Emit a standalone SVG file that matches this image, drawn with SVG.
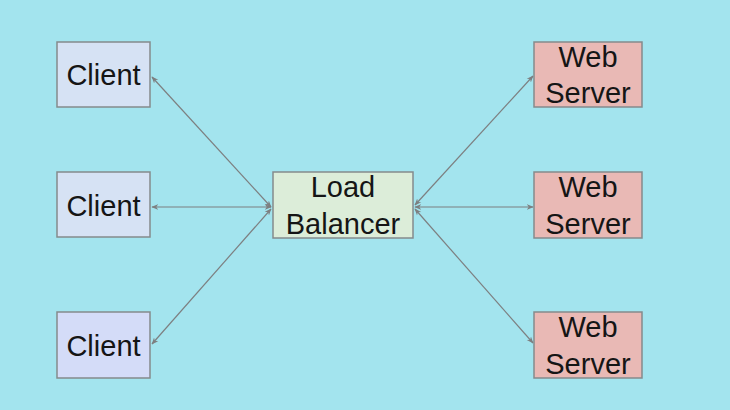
<svg xmlns="http://www.w3.org/2000/svg" width="730" height="410" viewBox="0 0 730 410">
<style>
.box{stroke:#858a8c;stroke-width:1.5}
.client{fill:#d6e2f4}
.lb{fill:#dcedd9}
.web{fill:#e9b9b5}
text{font-family:"Liberation Sans",Arial,sans-serif;font-size:29px;fill:#151515;text-anchor:middle}
.conn line{stroke:#7d7f80;stroke-width:1.2;marker-start:url(#ah);marker-end:url(#ah)}
</style>
<defs>
<marker id="ah" viewBox="0 0 10 10" refX="9" refY="5" markerWidth="7" markerHeight="7" orient="auto-start-reverse" markerUnits="userSpaceOnUse">
<path d="M0,1 L10,5 L0,9 L3,5 z" fill="#7d7f80"/>
</marker>
</defs>
<rect width="730" height="410" fill="#a3e4ee"/>
<g class="conn">
<line x1="152" y1="77" x2="271" y2="207"/>
<line x1="152" y1="207" x2="271" y2="207"/>
<line x1="152" y1="344" x2="271" y2="209"/>
<line x1="415" y1="205" x2="533" y2="76"/>
<line x1="415" y1="207" x2="533" y2="207"/>
<line x1="415" y1="209" x2="533" y2="343"/>
</g>
<g id="client1"><rect class="box client" x="57" y="42" width="93" height="65"/><text x="103.5" y="85">Client</text></g>
<g id="client2"><rect class="box client" x="57" y="172" width="93" height="65"/><text x="103.5" y="216">Client</text></g>
<g id="client3"><rect class="box client" x="57" y="312" width="93" height="66" style="fill:#d4dcf8"/><text x="103.5" y="356">Client</text></g>
<g id="lb"><rect class="box lb" x="273" y="172" width="140" height="66"/><text x="343" y="197">Load</text><text x="343" y="234">Balancer</text></g>
<g id="web1"><rect class="box web" x="534" y="42" width="108" height="65"/><text x="588" y="67">Web</text><text x="588" y="103">Server</text></g>
<g id="web2"><rect class="box web" x="534" y="172" width="108" height="66"/><text x="588" y="197">Web</text><text x="588" y="234">Server</text></g>
<g id="web3"><rect class="box web" x="534" y="312" width="108" height="66"/><text x="588" y="337">Web</text><text x="588" y="374">Server</text></g>
</svg>
